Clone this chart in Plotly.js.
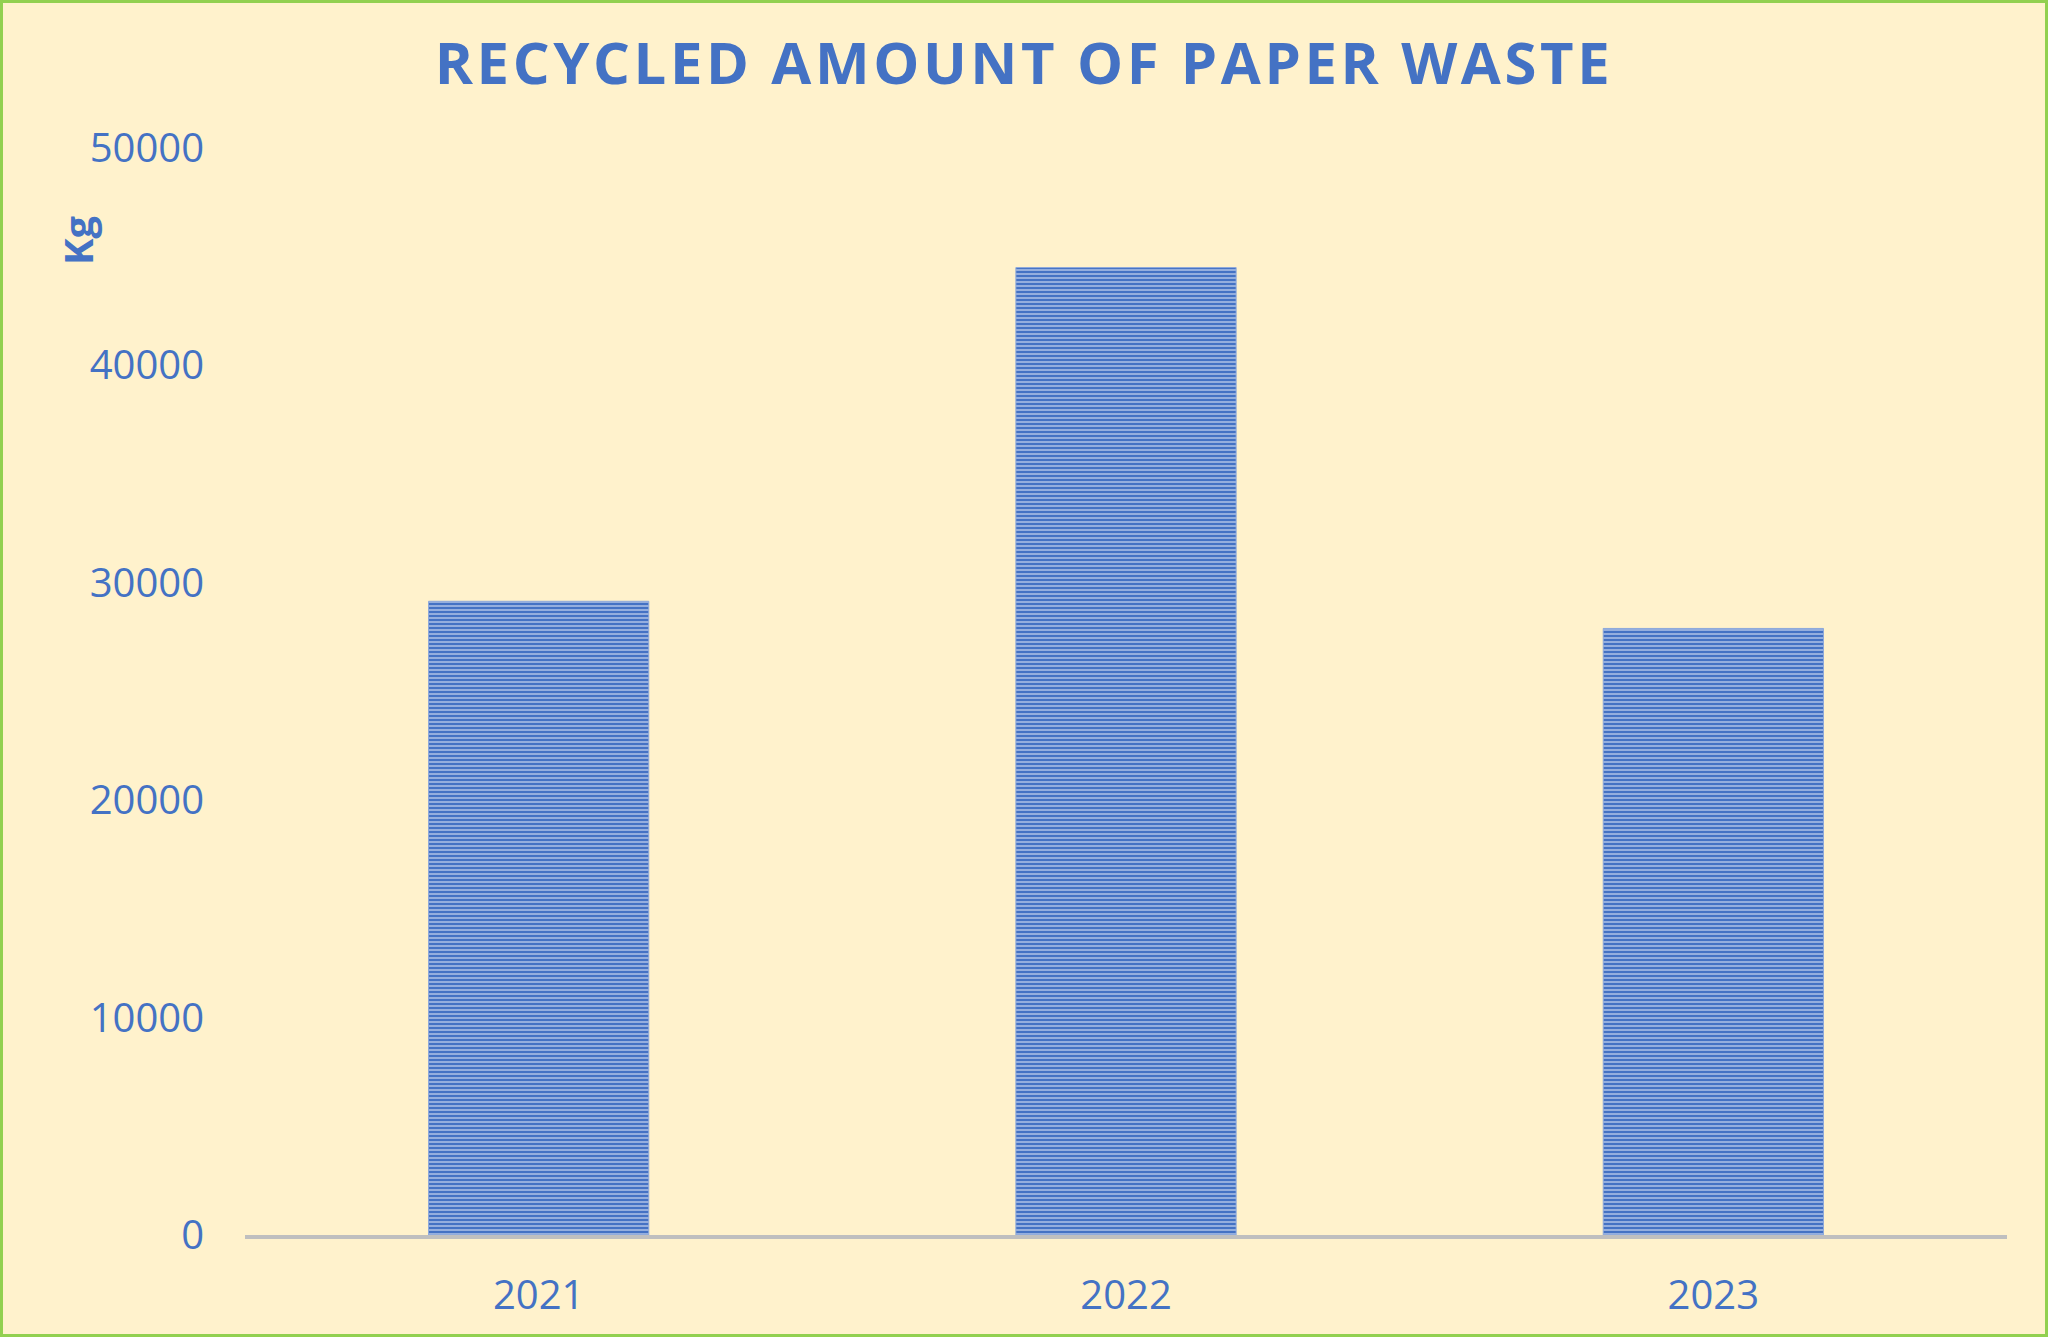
<!DOCTYPE html>
<html>
<head>
<meta charset="utf-8">
<script src="https://cdn.plot.ly/plotly-3.0.1.min.js"></script>
<style>
html,body{margin:0;padding:0;background:#FFF2CC;}
#chart{width:2048px;height:1337px;}
.gtitle{letter-spacing:3.6px;}
</style>
</head>
<body>
<div id="chart"></div>
<script>
const years = ['2021', '2022', '2023'];
const recycledKg = [29150, 44500, 27900];
const yTicks = [0, 10000, 20000, 30000, 40000, 50000];

const blue = '#4472C4';

const trace = {
  type: 'bar',
  x: years,
  y: recycledKg,
  marker: {
    color: blue,
    line: {color: '#8EA9DB', width: 1},
    pattern: {shape: '-', fgcolor: '#D3DEF3', bgcolor: blue, size: 4, solidity: 0.28, fillmode: 'replace'}
  },
  hoverinfo: 'x+y'
};

const L = 245, R = 2007, T = 148, B = 1235;
const W = R - L, H = B - T;

const layout = {
  width: 2048, height: 1337,
  paper_bgcolor: '#FFF2CC',
  plot_bgcolor: '#FFF2CC',
  margin: {l: L, r: 2048 - R, t: T, b: 1337 - B, pad: 0},
  bargap: 0.625,
  showlegend: false,
  title: {
    text: '<b>RECYCLED AMOUNT OF PAPER WASTE</b>',
    font: {family: 'Open Sans', size: 58, color: blue},
    x: 0.5, xanchor: 'center', xref: 'container',
    y: 1 - 64 / 1337, yanchor: 'middle', yref: 'container'
  },
  xaxis: {
    type: 'category',
    showline: true, linecolor: '#BFBFBF', linewidth: 4,
    ticks: '', showgrid: false, zeroline: false,
    tickfont: {family: 'Open Sans', size: 40, color: blue},
    ticklabelstandoff: 22
  },
  yaxis: {
    range: [0, 50000],
    tickvals: yTicks,
    tickformat: 'd',
    showgrid: false, zeroline: false, showline: false, ticks: '',
    tickfont: {family: 'Open Sans', size: 40, color: blue},
    ticklabelstandoff: 40
  },
  annotations: [{
    text: '<b>Kg</b>',
    xref: 'paper', yref: 'paper',
    x: (77 - L) / W, y: (B - 240) / H,
    xanchor: 'center', yanchor: 'middle',
    textangle: -90, showarrow: false,
    font: {family: 'Open Sans', size: 40, color: blue}
  }],
  shapes: [{
    type: 'rect', xref: 'paper', yref: 'paper', layer: 'above',
    x0: (1.5 - L) / W, x1: (2046.5 - L) / W,
    y0: (B - 1335.5) / H, y1: (B - 1.5) / H,
    line: {color: '#92D050', width: 3}, fillcolor: 'rgba(0,0,0,0)'
  }]
};

Plotly.newPlot('chart', [trace], layout, {displayModeBar: false, staticPlot: true});
</script>
</body>
</html>
